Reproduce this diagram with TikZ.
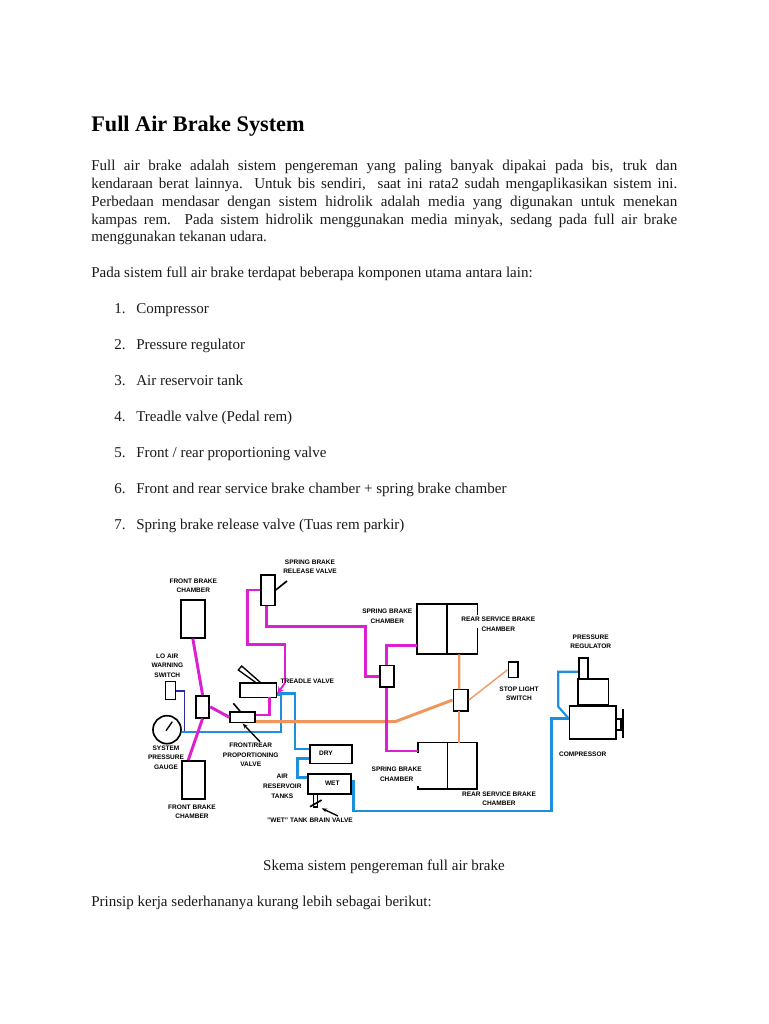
\documentclass[tikz,border=0pt]{standalone}
\usepackage{fontspec}
\setmainfont{Liberation Serif}
\setsansfont{Liberation Sans}
\usepackage{xcolor}
\definecolor{pipeMagenta}{HTML}{DD1FD2}
\definecolor{pipeOrange}{HTML}{F0965C}
\definecolor{pipeBlue}{HTML}{1E8FDC}
\definecolor{pipeNavy}{HTML}{2A2AA8}
\definecolor{pageText}{HTML}{1A1A1A}
\usetikzlibrary{arrows.meta}
\tikzset{
  bodyline/.style={anchor=base west, inner sep=0pt, text=pageText, font=\fontsize{11.27}{13}\selectfont},
  partbox/.style={draw=black, line width=1.25pt, inner sep=0pt, fill=white},
  chamberline/.style={line width=1.25pt},
  tag/.style={align=center, inner sep=0pt, font=\sffamily\bfseries\fontsize{4.9}{7.3}\selectfont},
  magentapipe/.style={draw=pipeMagenta, line width=2.2pt, line join=miter},
  orangepipe/.style={draw=pipeOrange, line width=2.2pt},
  bluepipe/.style={draw=pipeBlue, line width=2.2pt},
  thinblue/.style={draw=pipeBlue, line width=1.2pt},
  pointer/.style={-{Stealth[length=4pt,width=3pt]}, line width=1pt}
}

\begin{document}
\begin{tikzpicture}[x=0.75pt, y=-0.75pt]
  \useasboundingbox (0,0) rectangle (768,1024);
  % page text
  \node[anchor=base west, inner sep=0pt, text=black, font=\bfseries\fontsize{16.7}{18}\selectfont] (title) at (91,132) {Full Air Brake System};
  \node[bodyline, text width=439.5pt, align=justify] (para1) at (91,170) {\parfillskip=0pt
    Full air brake adalah sistem pengereman yang paling banyak dipakai pada bis, truk dan\par};
  \node[bodyline, text width=439.5pt, align=justify] (para2) at (91,188) {\parfillskip=0pt
    kendaraan berat lainnya. Untuk bis sendiri,\ \ saat ini rata2 sudah mengaplikasikan sistem ini.\par};
  \node[bodyline, text width=439.5pt, align=justify] (para3) at (91,206) {\parfillskip=0pt
    Perbedaan mendasar dengan sistem hidrolik adalah media yang digunakan untuk menekan\par};
  \node[bodyline, text width=439.5pt, align=justify] (para4) at (91,224) {\parfillskip=0pt
    kampas rem. Pada sistem hidrolik menggunakan media minyak, sedang pada full air brake\par};
  \node[bodyline] (para5) at (91,241) {menggunakan tekanan udara.};
  \node[bodyline] (intro) at (91,277) {Pada sistem full air brake terdapat beberapa komponen utama antara lain:};
  % component list
  \foreach \n/\y/\txt in {1/313/Compressor, 2/349/Pressure regulator, 3/385/Air reservoir tank,
      4/421/Treadle valve (Pedal rem), 5/457/{Front / rear proportioning valve},
      6/493/Front and rear service brake chamber + spring brake chamber,
      7/529/Spring brake release valve (Tuas rem parkir)} {
    \node[bodyline] (num\n) at (114,\y) {\n.};
    \node[bodyline] (item\n) at (136,\y) {\txt};
  }
  \node[bodyline, anchor=base] (caption) at (384,870) {Skema sistem pengereman full air brake};
  \node[bodyline] (closing) at (91,906) {Prinsip kerja sederhananya kurang lebih sebagai berikut:};

  % parts
  \node[partbox, minimum width=10.7pt, minimum height=23pt] (release) at (267.8,590) {};
  \node[partbox, minimum width=18.2pt, minimum height=28.3pt] (frontTop) at (192.8,618.8) {};
  \node[partbox, minimum width=17pt, minimum height=28.7pt] (frontBot) at (193.6,780.1) {};
  \node[partbox, line width=0.8pt, minimum width=7.7pt, minimum height=13.7pt] (loSwitch) at (170.8,690.8) {};
  \node[partbox, minimum width=10pt, minimum height=16.3pt] (frontValve) at (202.6,706.8) {};
  \node[partbox, minimum width=18.5pt, minimum height=8pt] (propValve) at (242.6,717.3) {};
  \node[partbox, minimum width=27.5pt, minimum height=11pt] (treadle) at (258.3,690) {};
  \node[partbox, minimum width=31.7pt, minimum height=13.7pt] (dry) at (330.8,754.2) {};
  \node[partbox, minimum width=31.8pt, minimum height=15pt] (wet) at (329.5,784.3) {};
  \node[partbox, minimum width=3pt, minimum height=9.8pt] (drain) at (315.5,800.5) {};
  \node[partbox, minimum width=10.3pt, minimum height=16.3pt] (springValve) at (386.8,676.2) {};
  \node[partbox, minimum width=11pt, minimum height=16pt] (midValve) at (460.7,700) {};
  \node[partbox, minimum width=7pt, minimum height=11.3pt] (stop) at (513,669.8) {};
  \node[partbox, minimum width=7.2pt, minimum height=15.2pt] (regulator) at (583.5,668.2) {};
  \node[partbox, minimum width=22.7pt, minimum height=19.5pt] (compTop) at (593.2,692) {};
  \node[partbox, minimum width=35pt, minimum height=25.2pt] (comp) at (592.7,722.5) {};
  \node[partbox, minimum width=3.8pt, minimum height=8pt] (pulley) at (618.5,724.6) {};
  \node[circle, draw=black, line width=1.25pt, inner sep=0pt, minimum size=21pt] (gauge) at (167,729.7) {};
  % open chambers
  \node[inner sep=0pt, minimum width=45pt, minimum height=37.5pt] (upperCh) at (447.3,629) {};
  \node[inner sep=0pt, minimum width=43.8pt, minimum height=34.7pt] (lowerCh) at (447.5,765.9) {};
  \draw[chamberline] (upperCh.north east) ++(0,11) -- (upperCh.north east) -- (upperCh.north west)
    -- (upperCh.south west) -- (upperCh.south east) -- ++(0,-26);
  \draw[chamberline] (upperCh.north) -- (upperCh.south);
  \draw[chamberline] (lowerCh.west) ++(0,-12.5) -- (lowerCh.north west) -- (lowerCh.north east)
    -- (lowerCh.south east) -- (lowerCh.south west) -- ++(0,-3);
  \draw[chamberline] (lowerCh.north) -- (lowerCh.south);

  % blue lines
  \draw[line width=1.2pt, draw=pipeNavy] (loSwitch.east) -- (184.3,690.8) -- (184.3,731.7);
  \draw[thinblue] (gauge.east) ++(0,2) -- (281,731.7) -- (281,695) -- (treadle.east |- 0,695);
  \draw[bluepipe] (treadle.east) ++(0,3.3) -- (295,693.3) -- (295,749) -- (dry.west |- 0,749);
  \draw[bluepipe] (dry.west |- 0,758.3) -- (297.3,758.3) -- (297.3,777.7) -- (wet.west |- 0,777.7);
  \draw[bluepipe] (wet.east |- 0,781.7) -- (353.3,781.7) -- (353.3,811) -- (551.7,811) -- (551.7,718.3) -- (comp.west |- 0,718.3);
  \draw[line width=1.6pt, draw=pipeBlue] (comp.west |- 0,718.3) -- (558.3,706.7) -- (558.3,671.7) -- (regulator.west |- 0,671.7);

  % orange lines
  \draw[orangepipe] (propValve.east |- 0,721.7) -- (395,721.7) -- (midValve.west);
  \draw[line width=1.6pt, draw=pipeOrange] (upperCh.south -| midValve) ++(-1.4,0) -- (459.3,689.3);
  \draw[line width=1.6pt, draw=pipeOrange] (459.3,710.7) -- (459.3,743);
  \draw[line width=1pt, draw=pipeOrange] (midValve.east) -- (stop.west);

  % magenta lines
  \draw[magentapipe] (release.west) -- (247.3,590) -- (247.3,644.3) -- (285,644.3) -- (285,683);
  \draw[-{Stealth[length=5pt,width=5pt]}, line width=1.4pt, draw=pipeMagenta] (285,683) -- ([yshift=-2.5pt]treadle.east);
  \draw[magentapipe] (release.south) ++(-1,0) -- (266.8,626.7) -- (365.7,626.7) -- (365.7,676.2) -- (springValve.west);
  \draw[magentapipe] (springValve.north) -- (386.8,645.7) -- (upperCh.west |- 0,645.7);
  \draw[magentapipe] (springValve.south) -- (386.8,751) -- (lowerCh.west |- 0,751);
  \draw[magentapipe] (frontTop.south) -- (frontValve.north);
  \draw[magentapipe] (frontValve.south) -- ([xshift=-4pt]frontBot.north);
  \draw[magentapipe] (frontValve.east) -- (propValve.west);
  \draw[magentapipe] (propValve.east |- 0,715) -- (269.3,715) -- (269.3,697.3);

  % small details
  \draw[line width=1.25pt] (release.east) -- (287,581);
  \draw[line width=1pt, fill=white] (241.7,666) -- (238.3,670) -- (256,682.7) -- (260.7,682.7) -- cycle;
  \draw[line width=1pt] (166,730.7) -- (172.3,721.7);
  \draw[line width=1.2pt] (233.3,703.3) -- (propValve.north -| 240,0);
  \draw[pointer] (260,741.7) -- (propValve.south);
  \draw[line width=1.2pt] (310,806.7) -- (321.7,800);
  \draw[pointer] (338,816) -- (321.7,808.3);
  \draw[line width=1.6pt] (622.7,709) -- (622.7,737.7);

  % labels
  \node[tag] (tagRelease) at (310,566.7) {SPRING BRAKE\\RELEASE VALVE};
  \node[tag] (tagFrontTop) at (193.3,585.7) {FRONT BRAKE\\CHAMBER};
  \node[tag] (tagLoAir) at (167.3,665.7) {LO AIR\\WARNING\\SWITCH};
  \node[tag] (tagGauge) at (166,757.7) {SYSTEM\\PRESSURE\\GAUGE};
  \node[tag] (tagTreadle) at (307.3,681.3) {TREADLE VALVE};
  \node[tag] (tagProp) at (250.7,754.7) {FRONT/REAR\\PROPORTIONING\\VALVE};
  \node[tag] (tagFrontBot) at (192,811.7) {FRONT BRAKE\\CHAMBER};
  \node[tag] (tagTanks) at (282.3,786.3) {AIR\\RESERVOIR\\TANKS};
  \node[tag] (tagDry) at (326,753.7) {DRY};
  \node[tag] (tagWet) at (332.3,783.7) {WET};
  \node[tag] (tagDrain) at (310,820.3) {"WET" TANK BRAIN VALVE};
  \node[tag] (tagSpringTop) at (387.3,616.3) {SPRING BRAKE\\CHAMBER};
  \node[tag] (tagRearTop) at (498.3,624.3) {REAR SERVICE BRAKE\\CHAMBER};
  \node[tag] (tagStop) at (519,693.7) {STOP LIGHT\\SWITCH};
  \node[tag] (tagRegulator) at (590.7,641.7) {PRESSURE\\REGULATOR};
  \node[tag] (tagComp) at (582.7,754) {COMPRESSOR};
  \node[tag] (tagSpringBot) at (396.7,774) {SPRING BRAKE\\CHAMBER};
  \node[tag] (tagRearBot) at (499,798.7) {REAR SERVICE BRAKE\\CHAMBER};
\end{tikzpicture}
\end{document}
